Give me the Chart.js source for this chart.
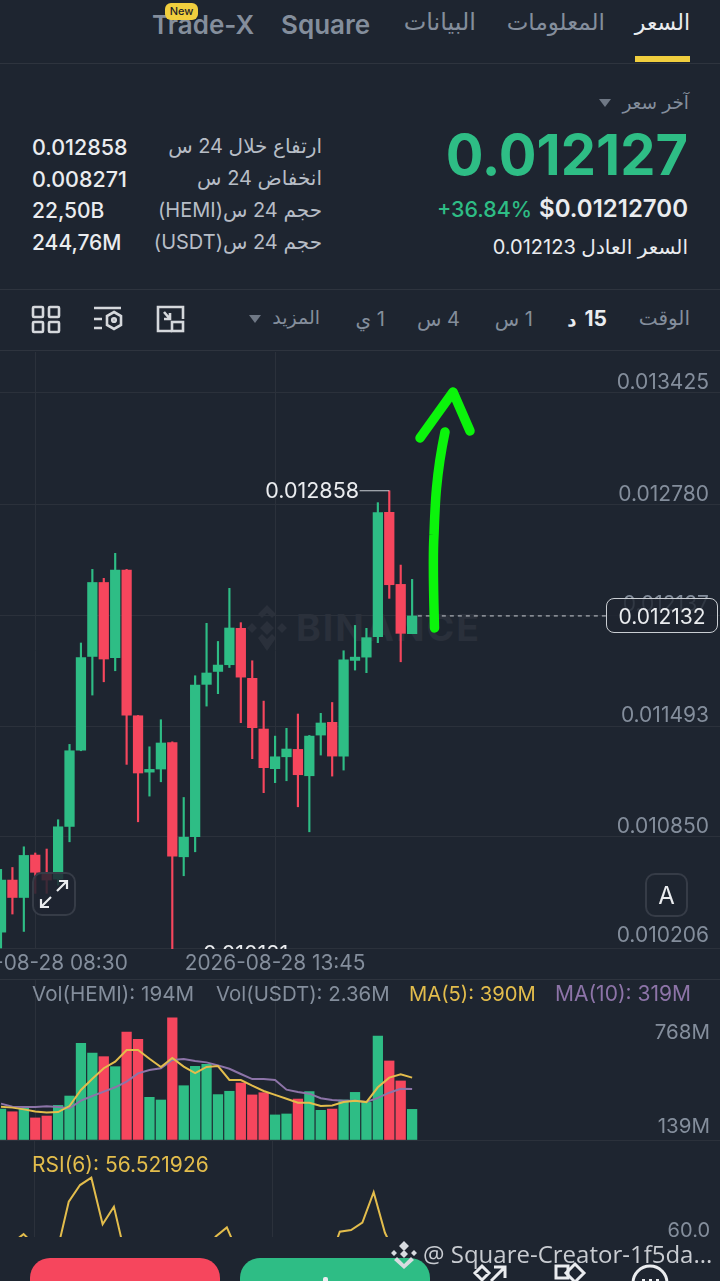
<!DOCTYPE html>
<html lang="ar">
<head>
<meta charset="utf-8">
<title>HEMI/USDT</title>
<script src="https://cdn.jsdelivr.net/npm/chart.js@4"></script>
<style>
  html, body { margin: 0; background: #1E2530; }
  #page { position: relative; width: 720px; height: 1281px; overflow: hidden; background: #1E2530; font-family: Inter, "DejaVu Sans", sans-serif; }
  #page canvas { position: absolute; left: 0; }
  .t { position: absolute; white-space: nowrap; line-height: 30px; height: 30px; }
  .r { direction: rtl; text-align: right; }
  .hr { position: absolute; left: 0; width: 720px; height: 1px; background: #2E343E; }
  .gray { color: #848E9C; }
  .soft { color: #B7BDC6; }
  .white { color: #EAECEF; }
  .tri { position: absolute; width: 0; height: 0; border-left: 6px solid transparent; border-right: 6px solid transparent; border-top: 8px solid #6F7885; }
  svg { position: absolute; overflow: visible; }
</style>
</head>
<body>
<div id="page">
  <!-- tabs -->
  <div class="t r white" style="right:30px;top:7px;font-size:22px">السعر</div>
  <div class="t r gray" style="right:115px;top:7px;font-size:23px">المعلومات</div>
  <div class="t r gray" style="right:244px;top:7px;font-size:24px">البيانات</div>
  <div class="t gray" style="left:281px;top:10px;font-size:26px;font-weight:600">Square</div>
  <div class="t gray" style="left:152px;top:10px;font-size:26px;font-weight:600">Trade-X</div>
  <div style="position:absolute;left:165px;top:3px;width:33px;height:17px;border-radius:6px;background:#F0CE3E;color:#1E2329;font-size:11px;font-weight:500;line-height:16px;text-align:center">New</div>
  <div style="position:absolute;left:635px;top:56px;width:55px;height:6px;background:#F0CE3E"></div>
  <div class="hr" style="top:63px"></div>

  <!-- price block -->
  <div class="t r gray" style="right:31px;top:87px;font-size:18.5px">آخر سعر</div>
  <div class="tri" style="left:599px;top:99px"></div>
  <div class="t" style="right:32px;top:140px;font-size:56px;font-weight:700;color:#2EBD85">0.012127</div>
  <div class="t" style="right:32px;top:194px;font-size:24px;font-weight:600;color:#EAECEF">$0.01212700</div>
  <div class="t" style="left:437px;top:194px;font-size:21.4px;font-weight:500;color:#2EBD85">+36.84%</div>
  <div class="t r white" style="right:32px;top:232px;font-size:20px">السعر العادل 0.012123</div>

  <div class="t white" style="left:32px;top:132px;font-size:21.5px;font-weight:500">0.012858</div>
  <div class="t white" style="left:32px;top:164px;font-size:21.5px;font-weight:500">0.008271</div>
  <div class="t white" style="left:32px;top:196px;font-size:21px;font-weight:500">22,50B</div>
  <div class="t white" style="left:32px;top:228px;font-size:21px;font-weight:500">244,76M</div>
  <div class="t r soft" style="right:398px;top:131px;font-size:20px">ارتفاع خلال 24 س</div>
  <div class="t r soft" style="right:398px;top:163px;font-size:20px">انخفاض 24 س</div>
  <div class="t r soft" style="right:398px;top:195px;font-size:20px">حجم 24 س(HEMI)</div>
  <div class="t r soft" style="right:398px;top:227px;font-size:20px">حجم 24 س(USDT)</div>
  <div class="hr" style="top:289px"></div>

  <!-- interval row -->
  <div class="t r gray" style="right:30px;top:303px;font-size:20px">الوقت</div>
  <div class="t r white" style="right:113px;top:304px;font-size:21px;font-weight:700">15 <span style="font-size:18px;margin-right:3px">د</span></div>
  <div class="t r gray" style="right:187px;top:304px;font-size:20px">1 س</div>
  <div class="t r gray" style="right:260px;top:304px;font-size:20px">4 س</div>
  <div class="t r gray" style="right:335px;top:304px;font-size:20px">1 ي</div>
  <div class="t r gray" style="right:400px;top:303px;font-size:19px">المزيد</div>
  <div class="tri" style="left:249px;top:315px"></div>
  <svg style="left:0;top:0" width="720" height="350" fill="none" stroke="#D5D8DC" stroke-width="2.6">
    <rect x="33" y="307" width="10" height="10" rx="1"/><rect x="49" y="307" width="10" height="10" rx="1"/>
    <rect x="33" y="322" width="10" height="10" rx="1"/><rect x="49" y="322" width="10" height="10" rx="1"/>
    <path d="M94 308H121M94 319H102M94 328H102"/><path d="M114 312l7 4v9l-7 4l-7-4v-9z"/><circle cx="114" cy="320" r="1.8"/>
    <path d="M172 331H158V307H183V319"/><rect x="172" y="322" width="11" height="9"/><path d="M164 312l6 7M164 319h6v-6"/>
  </svg>
  <div class="hr" style="top:350px"></div>

  <!-- watermark sits under the candles -->
  <svg style="left:247px;top:605px" width="40" height="46" fill="#2A303B">
    <path d="M20 0l9 9l-4 4l-5-5l-5 5l-4-4zM5 18l5 5l-5 5l-5-5zM35 18l5 5l-5 5l-5-5zM20 16l7 7l-7 7l-7-7zM11 33l4-4l5 5l5-5l4 4l-9 13z"/>
  </svg>
  <div class="t" style="left:296px;top:613px;font-size:37.5px;font-weight:700;letter-spacing:2px;color:#2A303B">BINANCE</div>

  <canvas id="price-chart" width="720" height="623" style="top:352px"></canvas>
  <div class="hr" style="top:979px"></div>
  <canvas id="volume-chart" width="720" height="161" style="top:980px"></canvas>
  <canvas id="rsi-chart" width="720" height="96" style="top:1141px"></canvas>

  <!-- last price tag -->
  <div style="position:absolute;left:606px;top:598px;width:112px;height:35px;box-sizing:border-box;border:1px solid #C9CDD2;border-radius:8px;background:rgba(30,37,48,.82);color:#EAECEF;font-size:21px;line-height:36px;text-align:center">0.012132</div>

  <!-- chart buttons -->
  <div style="position:absolute;left:32px;top:872px;width:44px;height:44px;box-sizing:border-box;border:2px solid #363C47;border-radius:10px;background:rgba(30,37,48,.85)"></div>
  <svg style="left:0;top:0" width="100" height="950" fill="none" stroke="#EAECEF" stroke-width="2.2">
    <path d="M57 891L67 881M59 881H67V889M51 897L41 907M49 907H41V899"/>
  </svg>
  <div style="position:absolute;left:645px;top:873px;width:43px;height:44px;box-sizing:border-box;border:2px solid #363C47;border-radius:10px;color:#EAECEF;font-size:24px;line-height:42px;text-align:center">A</div>

  <!-- legends -->
  <div class="t gray" style="left:32px;top:979px;font-size:20.6px">Vol(HEMI): 194M</div>
  <div class="t gray" style="left:216px;top:979px;font-size:20.4px">Vol(USDT): 2.36M</div>
  <div class="t" style="left:409px;top:979px;font-size:20.2px;color:#E3BD4C">MA(5): 390M</div>
  <div class="t" style="left:555px;top:979px;font-size:21px;color:#8D74A8">MA(10): 319M</div>
  <div class="t" style="left:32px;top:1150px;font-size:21px;color:#E3BD4C">RSI(6): 56.521926</div>

  <!-- hand drawn arrow -->
  <svg style="left:0;top:0" width="720" height="700" fill="none" stroke="#0BF40B" stroke-width="9.5" stroke-linecap="round" stroke-linejoin="round">
    <path d="M434.5 628C433.5 590 432.5 560 434 535C435 505 436 475 445 432"/>
    <path d="M420 438L453 392L470 431"/>
  </svg>

  <!-- bottom bar -->
  <div style="position:absolute;left:30px;top:1258px;width:190px;height:60px;border-radius:20px;background:#F6465D"></div>
  <div style="position:absolute;left:240px;top:1258px;width:190px;height:60px;border-radius:20px;background:#2EBD85"></div>
  <div style="position:absolute;left:323px;top:1277px;width:5px;height:4px;border-radius:2px 2px 0 0;background:#EAECEF"></div>
  <svg style="left:0;top:0" width="720" height="1281" fill="none" stroke="#EAECEF" stroke-width="3">
    <path d="M482 1266l7 7l-7 7l-7-7zM491 1281L504 1268M494 1267H505V1278"/>
    <rect x="556" y="1266" width="12" height="12"/><path d="M575 1264l9 9l-9 9l-9-9z"/>
    <circle cx="650" cy="1283" r="17"/><path d="M642 1281h3M649 1281h3M656 1281h3" stroke-width="4"/>
  </svg>
  <svg style="left:391px;top:1241px" width="26" height="28" fill="#D8DBE0">
    <path d="M13 0l5 5l-5 5l-5-5zM3 9l3 3l-3 3l-3-3zM23 9l3 3l-3 3l-3-3zM13 9l4 4l-4 4l-4-4zM6 16l7 7l7-7l3 3l-10 9l-10-9z"/>
  </svg>
  <div class="t" style="left:423px;top:1239px;font-family:'Open Sans';font-size:24px;color:#D8DBE0;opacity:.92">@ Square-Creator-1f5da...</div>
</div>

<script>
// candles, oldest first, 15 min each
const opens  = [0.010298,0.010600,0.010499,0.010745,0.010643,0.010606,0.010911,0.011354,0.011897,0.012326,0.011890,0.012398,0.011553,0.011226,0.011244,0.011398,0.010735,0.010851,0.011735,0.011810,0.011849,0.012060,0.011770,0.011476,0.011246,0.011315,0.011358,0.011205,0.011441,0.011515,0.011319,0.011874,0.011893,0.012011,0.012733,0.012315,0.012029];
const closes = [0.010600,0.010499,0.010743,0.010645,0.010600,0.010909,0.011350,0.011891,0.012326,0.011882,0.012398,0.011557,0.011221,0.011242,0.011395,0.010739,0.010849,0.011731,0.011801,0.011847,0.012062,0.011777,0.011484,0.011252,0.011315,0.011360,0.011211,0.011435,0.011511,0.011319,0.011878,0.011893,0.012006,0.012731,0.012313,0.012031,0.012132];
const highs  = [0.010662,0.010673,0.010793,0.010757,0.010780,0.010950,0.011387,0.011975,0.012402,0.012350,0.012495,0.012402,0.011555,0.011373,0.011530,0.011402,0.011079,0.011785,0.012089,0.011984,0.012292,0.012093,0.011872,0.011638,0.011435,0.011480,0.011563,0.011439,0.011567,0.011630,0.011930,0.012077,0.012060,0.012789,0.012858,0.012427,0.012344];
const lows   = [0.010206,0.010403,0.010302,0.010523,0.010523,0.010571,0.010822,0.011350,0.011673,0.011750,0.011814,0.011271,0.010938,0.011087,0.011170,0.010181,0.010625,0.010764,0.011609,0.011681,0.011833,0.011513,0.011304,0.011107,0.011165,0.011176,0.011025,0.010880,0.011325,0.011203,0.011238,0.011818,0.011803,0.011977,0.012234,0.011866,0.012029];

// volume in millions
const volumes = [195,178,200,139,151,218,277,609,548,525,462,680,634,269,252,769,342,464,477,286,307,359,284,298,158,164,258,305,187,195,252,300,237,655,498,372,193];
const ma5     = [210,204,193,179,174,176,214,315,386,452,494,567,567,512,460,517,462,422,460,466,378,378,342,309,284,260,235,235,214,218,239,248,239,332,393,414,393];
const ma10    = [229,210,208,208,212,208,200,248,277,305,332,368,420,441,452,504,510,498,489,470,449,416,384,384,378,317,302,292,263,252,248,248,239,265,298,323,321];

const rsi6 = [52,60,64.1,59,52,56.8,79,86.7,90.1,68.6,76.7,54.4,45,48,50,40,42,50,52,62.9,67.2,55.2,45,38,40,42,38,45,48,50.5,65.2,66,69.4,83.4,64.7,54,56.52];

const priceTicks = [0.013425,0.012780,0.012137,0.011493,0.010850,0.010206];
const volumeTicks = [768,139];
const timeTickIndex = [3,24];
const timeTickLabels = ['2026-08-28 08:30','2026-08-28 13:45'];
const lastPrice = 0.012132;
const dayHigh = 0.012858;
const dayLow = 0.010181;
const rsiTick = 60;

const UP = '#2EBD85', DOWN = '#F6465D', GRID = '#2B313B', TICK = '#848E9C';
const FONT = 'Inter, "DejaVu Sans", sans-serif';
const candleColors = closes.map((c, i) => (c >= opens[i] ? UP : DOWN));
const xRange = { min: -0.0876, max: 62.96 };

// shared x axis: the two grid lines of the time ticks only
function timeAxis() {
  return {
    type: 'linear', offset: false, min: xRange.min, max: xRange.max,
    grid: { color: GRID, drawTicks: false, offset: false },
    border: { display: false },
    ticks: { display: false },
    afterBuildTicks: s => { s.ticks = timeTickIndex.map(v => ({ value: v })); },
  };
}

function text(ctx, str, x, y, font, color, align) {
  ctx.save();
  ctx.font = font;
  ctx.fillStyle = color;
  ctx.textAlign = align || 'left';
  ctx.textBaseline = 'middle';
  ctx.fillText(str, x, y);
  ctx.restore();
}

const baseOptions = {
  responsive: false, animation: false, events: [],
  layout: { padding: 0 },
  plugins: { legend: { display: false }, tooltip: { enabled: false } },
};

const priceLabels = {
  id: 'priceLabels',
  afterDatasetsDraw(chart) {
    const { ctx, chartArea, scales: { x, y } } = chart;
    const f = '21.5px ' + FONT;
    text(ctx, dayHigh.toFixed(6), x.getPixelForValue(31.35), y.getPixelForValue(dayHigh) + 1, f, '#EAECEF', 'right');
    ctx.save();
    ctx.beginPath();
    ctx.rect(0, chartArea.top, 720, chartArea.bottom - chartArea.top);
    ctx.clip();
    text(ctx, dayLow.toFixed(6), 203, chartArea.bottom + 6, f, '#EAECEF');
    ctx.restore();
    priceTicks.forEach((v, i) => {
      const off = i === priceTicks.length - 1 ? 12 : 10;
      text(ctx, v.toFixed(6), 709, y.getPixelForValue(v) - off, '21px ' + FONT, TICK, 'right');
    });
    timeTickIndex.forEach((v, i) => {
      text(ctx, timeTickLabels[i], x.getPixelForValue(v), chartArea.bottom + 15, '20.8px ' + FONT, TICK, 'center');
    });
  },
};

new Chart(document.getElementById('price-chart'), {
  type: 'bar',
  data: {
    datasets: [
      {
        type: 'line', order: 0, data: [{ x: 36.5, y: lastPrice }, { x: 53.06, y: lastPrice }],
        borderColor: '#C9CDD2', borderWidth: 1, borderDash: [4, 4], pointRadius: 0,
      },
      {
        type: 'line', order: 0, data: [{ x: 31.4, y: dayHigh }, { x: 34, y: dayHigh }],
        borderColor: '#C9CDD2', borderWidth: 1, pointRadius: 0,
      },
      {
        order: 1, grouped: false, barThickness: 9.6, borderWidth: 0, borderSkipped: false,
        backgroundColor: candleColors,
        data: opens.map((o, i) => ({ x: i, y: [o, closes[i]] })),
      },
      {
        order: 2, grouped: false, barThickness: 1.5, borderWidth: 0, borderSkipped: false,
        backgroundColor: candleColors,
        data: lows.map((l, i) => ({ x: i, y: [l, highs[i]] })),
      },
    ],
  },
  options: {
    ...baseOptions,
    layout: { padding: { bottom: 26 } },
    scales: {
      x: timeAxis(),
      y: {
        position: 'right', min: 0.0102002, max: 0.0136628,
        afterBuildTicks: s => { s.ticks = priceTicks.map(v => ({ value: v })); },
        grid: { color: GRID, drawTicks: false },
        border: { display: false },
        ticks: { display: false },
      },
    },
  },
  plugins: [priceLabels],
});

const volumeLabels = {
  id: 'volumeLabels',
  afterDatasetsDraw(chart) {
    const { ctx, scales: { y } } = chart;
    text(ctx, volumeTicks[0] + 'M', 710, y.getPixelForValue(volumeTicks[0]) + 15, '20.5px ' + FONT, TICK, 'right');
    text(ctx, volumeTicks[1] + 'M', 710, y.getPixelForValue(volumeTicks[1]) + 9, '20.5px ' + FONT, TICK, 'right');
  },
};

new Chart(document.getElementById('volume-chart'), {
  type: 'bar',
  data: {
    datasets: [
      { type: 'line', order: 0, data: ma5.map((v, i) => ({ x: i, y: v })), borderColor: '#E3BD4C', borderWidth: 2, pointRadius: 0 },
      { type: 'line', order: 0, data: ma10.map((v, i) => ({ x: i, y: v })), borderColor: '#8D74A8', borderWidth: 2, pointRadius: 0 },
      {
        order: 1, barThickness: 9.6, borderWidth: 0, backgroundColor: candleColors,
        data: volumes.map((v, i) => ({ x: i, y: v })),
      },
    ],
  },
  options: {
    ...baseOptions,
    scales: {
      x: timeAxis(),
      y: {
        position: 'right', min: -6.3, max: 1008,
        afterBuildTicks: s => { s.ticks = [{ value: 0 }]; },
        grid: { color: GRID, drawTicks: false },
        border: { display: false },
        ticks: { display: false },
      },
    },
  },
  plugins: [volumeLabels],
});

const rsiLabel = {
  id: 'rsiLabel',
  afterDatasetsDraw(chart) {
    const { ctx, chartArea } = chart;
    text(ctx, rsiTick.toFixed(1), 710, chartArea.bottom - 6, '20px ' + FONT, TICK, 'right');
  },
};

new Chart(document.getElementById('rsi-chart'), {
  type: 'line',
  data: {
    datasets: [{
      data: rsi6.map((v, i) => ({ x: i, y: v })),
      borderColor: '#E3BD4C', borderWidth: 2, pointRadius: 0,
    }],
  },
  options: {
    ...baseOptions,
    scales: {
      x: timeAxis(),
      y: {
        min: 62.76, max: 107, position: 'right',
        grid: { display: false }, border: { display: false }, ticks: { display: false },
      },
    },
  },
  plugins: [rsiLabel],
});
</script>
</body>
</html>
